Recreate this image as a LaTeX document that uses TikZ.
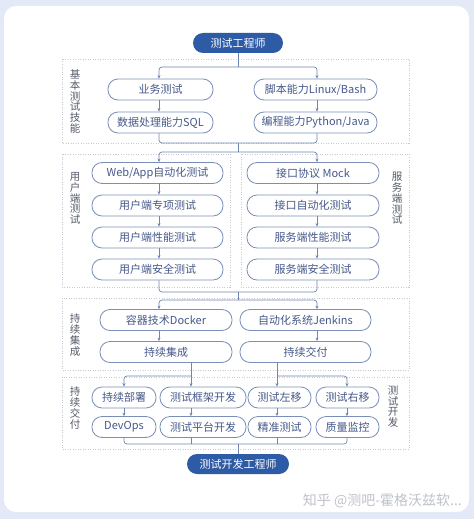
\documentclass[tikz,border=0pt]{standalone}
\usepackage{fontspec}
\setmainfont{Noto Sans CJK SC}
\usetikzlibrary{arrows.meta}
\definecolor{bgout}{HTML}{E4E9F7}
\definecolor{dblue}{HTML}{2E5BA6}
\definecolor{nborder}{HTML}{7A8EB8}
\definecolor{ntext}{HTML}{46598A}
\definecolor{lcol}{HTML}{6F86B3}
\definecolor{gbox}{HTML}{C6CBD6}
\definecolor{labtext}{HTML}{555A68}
\definecolor{wmark}{HTML}{BFC3CB}
\tikzset{
  box/.style={draw=nborder, line width=0.8pt, fill=white, rounded corners=10pt,
    minimum height=21pt, inner sep=0pt, text=ntext, font=\fontsize{11}{12}\selectfont},
  mainbox/.style={fill=dblue, rounded corners=10pt, minimum height=20pt, inner sep=0pt,
    text=white, font=\fontsize{11}{12}\selectfont},
  grp/.style={draw=gbox, line width=0.6pt, dash pattern=on 1pt off 1.5pt},
  conn/.style={draw=lcol, line width=0.7pt, rounded corners=3pt},
  arr/.style={conn, -{Stealth[length=3.5pt,width=3pt]}},
  glabel/.style={text=labtext, align=center, inner sep=0pt,
    font=\fontsize{10.5}{10.8}\selectfont},
}
\begin{document}
\begin{tikzpicture}[x=1pt,y=-1pt]
\useasboundingbox (0,0) rectangle (474,519);
\fill[bgout] (0,0) rectangle (474,519);
\fill[white, rounded corners=12pt] (4,6) rectangle (469,512);

% group boxes
\draw[grp] (62,59) rectangle (409,143);
\draw[grp] (62,154) rectangle (230,287);
\draw[grp] (241,154) rectangle (409,287);
\draw[grp] (62,298) rectangle (409,370);
\draw[grp] (62,377) rectangle (409,449);

% group labels
\node[glabel] (lab1) at (75,101.5) {基\\本\\测\\试\\技\\能};
\node[glabel] (lab2) at (75,198.5) {用\\户\\端\\测\\试};
\node[glabel] (lab3) at (397,198.5) {服\\务\\端\\测\\试};
\node[glabel] (lab4) at (75,335) {持\\续\\集\\成};
\node[glabel] (lab5) at (75,408) {持\\续\\交\\付};
\node[glabel] (lab6) at (393,406.5) {测\\试\\开\\发};

% column coordinates
\coordinate (L) at (159,0);
\coordinate (R) at (317,0);
\coordinate (M) at (238,0);

% nodes
\node[mainbox, minimum width=90pt] (top) at (238,43) {测试工程师};

\node[box, minimum width=105pt] (b1) at (160.5,89.5) {业务测试};
\node[box, minimum width=123pt] (b2) at (315.5,89.5) {脚本能力Linux/Bash};
\node[box, minimum width=105pt] (b3) at (160.5,122.5) {数据处理能力SQL};
\node[box, minimum width=123pt] (b4) at (315.5,122.5) {编程能力Python/Java};

\node[box, minimum width=131pt] (u1) at (157.5,173) {Web/App自动化测试};
\node[box, minimum width=131pt] (u2) at (157.5,205.5) {用户端专项测试};
\node[box, minimum width=131pt] (u3) at (157.5,237.5) {用户端性能测试};
\node[box, minimum width=131pt] (u4) at (157.5,269.5) {用户端安全测试};
\node[box, minimum width=132pt] (s1) at (313,173) {接口协议 Mock};
\node[box, minimum width=132pt] (s2) at (313,205.5) {接口自动化测试};
\node[box, minimum width=132pt] (s3) at (313,237.5) {服务端性能测试};
\node[box, minimum width=132pt] (s4) at (313,269.5) {服务端安全测试};

\node[box, minimum width=132pt] (c1) at (166,320) {容器技术Docker};
\node[box, minimum width=131pt] (c2) at (305.5,320) {自动化系统Jenkins};
\node[box, minimum width=132pt] (c3) at (166,352) {持续集成};
\node[box, minimum width=131pt] (c4) at (305.5,352) {持续交付};

\node[box, minimum width=64pt] (d1) at (124,397.5) {持续部署};
\node[box, minimum width=86pt] (d2) at (203,397.5) {测试框架开发};
\node[box, minimum width=63pt] (d3) at (279.5,397.5) {测试左移};
\node[box, minimum width=63pt] (d4) at (347.5,397.5) {测试右移};
\node[box, minimum width=64pt] (e1) at (124,427) {DevOps};
\node[box, minimum width=86pt] (e2) at (203,427) {测试平台开发};
\node[box, minimum width=63pt] (e3) at (279.5,427) {精准测试};
\node[box, minimum width=63pt] (e4) at (347.5,427) {质量监控};

\node[mainbox, minimum width=102pt] (bot) at (238,464) {测试开发工程师};

% x positions for group 4
\coordinate (X1) at (124,0);
\coordinate (X2) at (191,0);
\coordinate (X3) at (277,0);
\coordinate (X4) at (347,0);

% helper y-levels
\coordinate (Y1) at (0,67);
\coordinate (Y2) at (0,143);
\coordinate (Y3) at (0,152);
\coordinate (Y4) at (0,292);
\coordinate (Y5) at (0,300);
\coordinate (Y6) at (0,376);
\coordinate (Y7) at (0,444);

% group 1 connectors
\draw[conn] (top.south) -- (M |- Y1);
\draw[arr] (M |- Y1) -- (L |- Y1) -- (b1.north -| L);
\draw[arr] (M |- Y1) -- (R |- Y1) -- (b2.north -| R);
\draw[arr] (b1.south -| L) -- (b3.north -| L);
\draw[arr] (b2.south -| R) -- (b4.north -| R);
\draw[conn] (b3.south -| L) -- (L |- Y2) -- (M |- Y2);
\draw[conn] (b4.south -| R) -- (R |- Y2) -- (M |- Y2);
\draw[conn] (M |- Y2) -- (M |- Y3);

% group 2 connectors
\draw[arr] (M |- Y3) -- (L |- Y3) -- (u1.north -| L);
\draw[arr] (M |- Y3) -- (R |- Y3) -- (s1.north -| R);
\draw[arr] (u1.south -| L) -- (u2.north -| L);
\draw[arr] (u2.south -| L) -- (u3.north -| L);
\draw[arr] (u3.south -| L) -- (u4.north -| L);
\draw[arr] (s1.south -| R) -- (s2.north -| R);
\draw[arr] (s2.south -| R) -- (s3.north -| R);
\draw[arr] (s3.south -| R) -- (s4.north -| R);
\draw[conn] (u4.south -| L) -- (L |- Y4) -- (M |- Y4);
\draw[conn] (s4.south -| R) -- (R |- Y4) -- (M |- Y4);
\draw[conn] (M |- Y4) -- (M |- Y5);

% group 3 connectors
\draw[arr] (M |- Y5) -- (L |- Y5) -- (c1.north -| L);
\draw[arr] (M |- Y5) -- (R |- Y5) -- (c2.north -| R);
\draw[arr] (c1.south -| L) -- (c3.north -| L);
\draw[arr] (c2.south -| R) -- (c4.north -| R);

% group 4 connectors
\draw[arr] (c3.south -| X2) -- (d2.north -| X2);
\draw[arr] (X2 |- Y6) -- (X1 |- Y6) -- (d1.north -| X1);
\draw[arr] (c4.south -| X3) -- (d3.north -| X3);
\draw[arr] (X3 |- Y6) -- (X4 |- Y6) -- (d4.north -| X4);
\draw[arr] (d1.south -| X1) -- (e1.north -| X1);
\draw[arr] (d2.south -| X2) -- (e2.north -| X2);
\draw[arr] (d3.south -| X3) -- (e3.north -| X3);
\draw[arr] (d4.south -| X4) -- (e4.north -| X4);
\draw[conn] (e1.south -| X1) -- (X1 |- Y7) -- (X4 |- Y7) -- (e4.south -| X4);
\draw[conn] (e2.south -| X2) -- (X2 |- Y7);
\draw[conn] (e3.south -| X3) -- (X3 |- Y7);
\draw[conn] (bot.north) -- (bot.north |- Y7);

% watermark
\node[text=wmark, anchor=east, inner sep=0pt, font=\fontsize{14}{15}\selectfont] (wm) at (462,501) {知乎 @测吧-霍格沃兹软...};
\end{tikzpicture}
\end{document}
